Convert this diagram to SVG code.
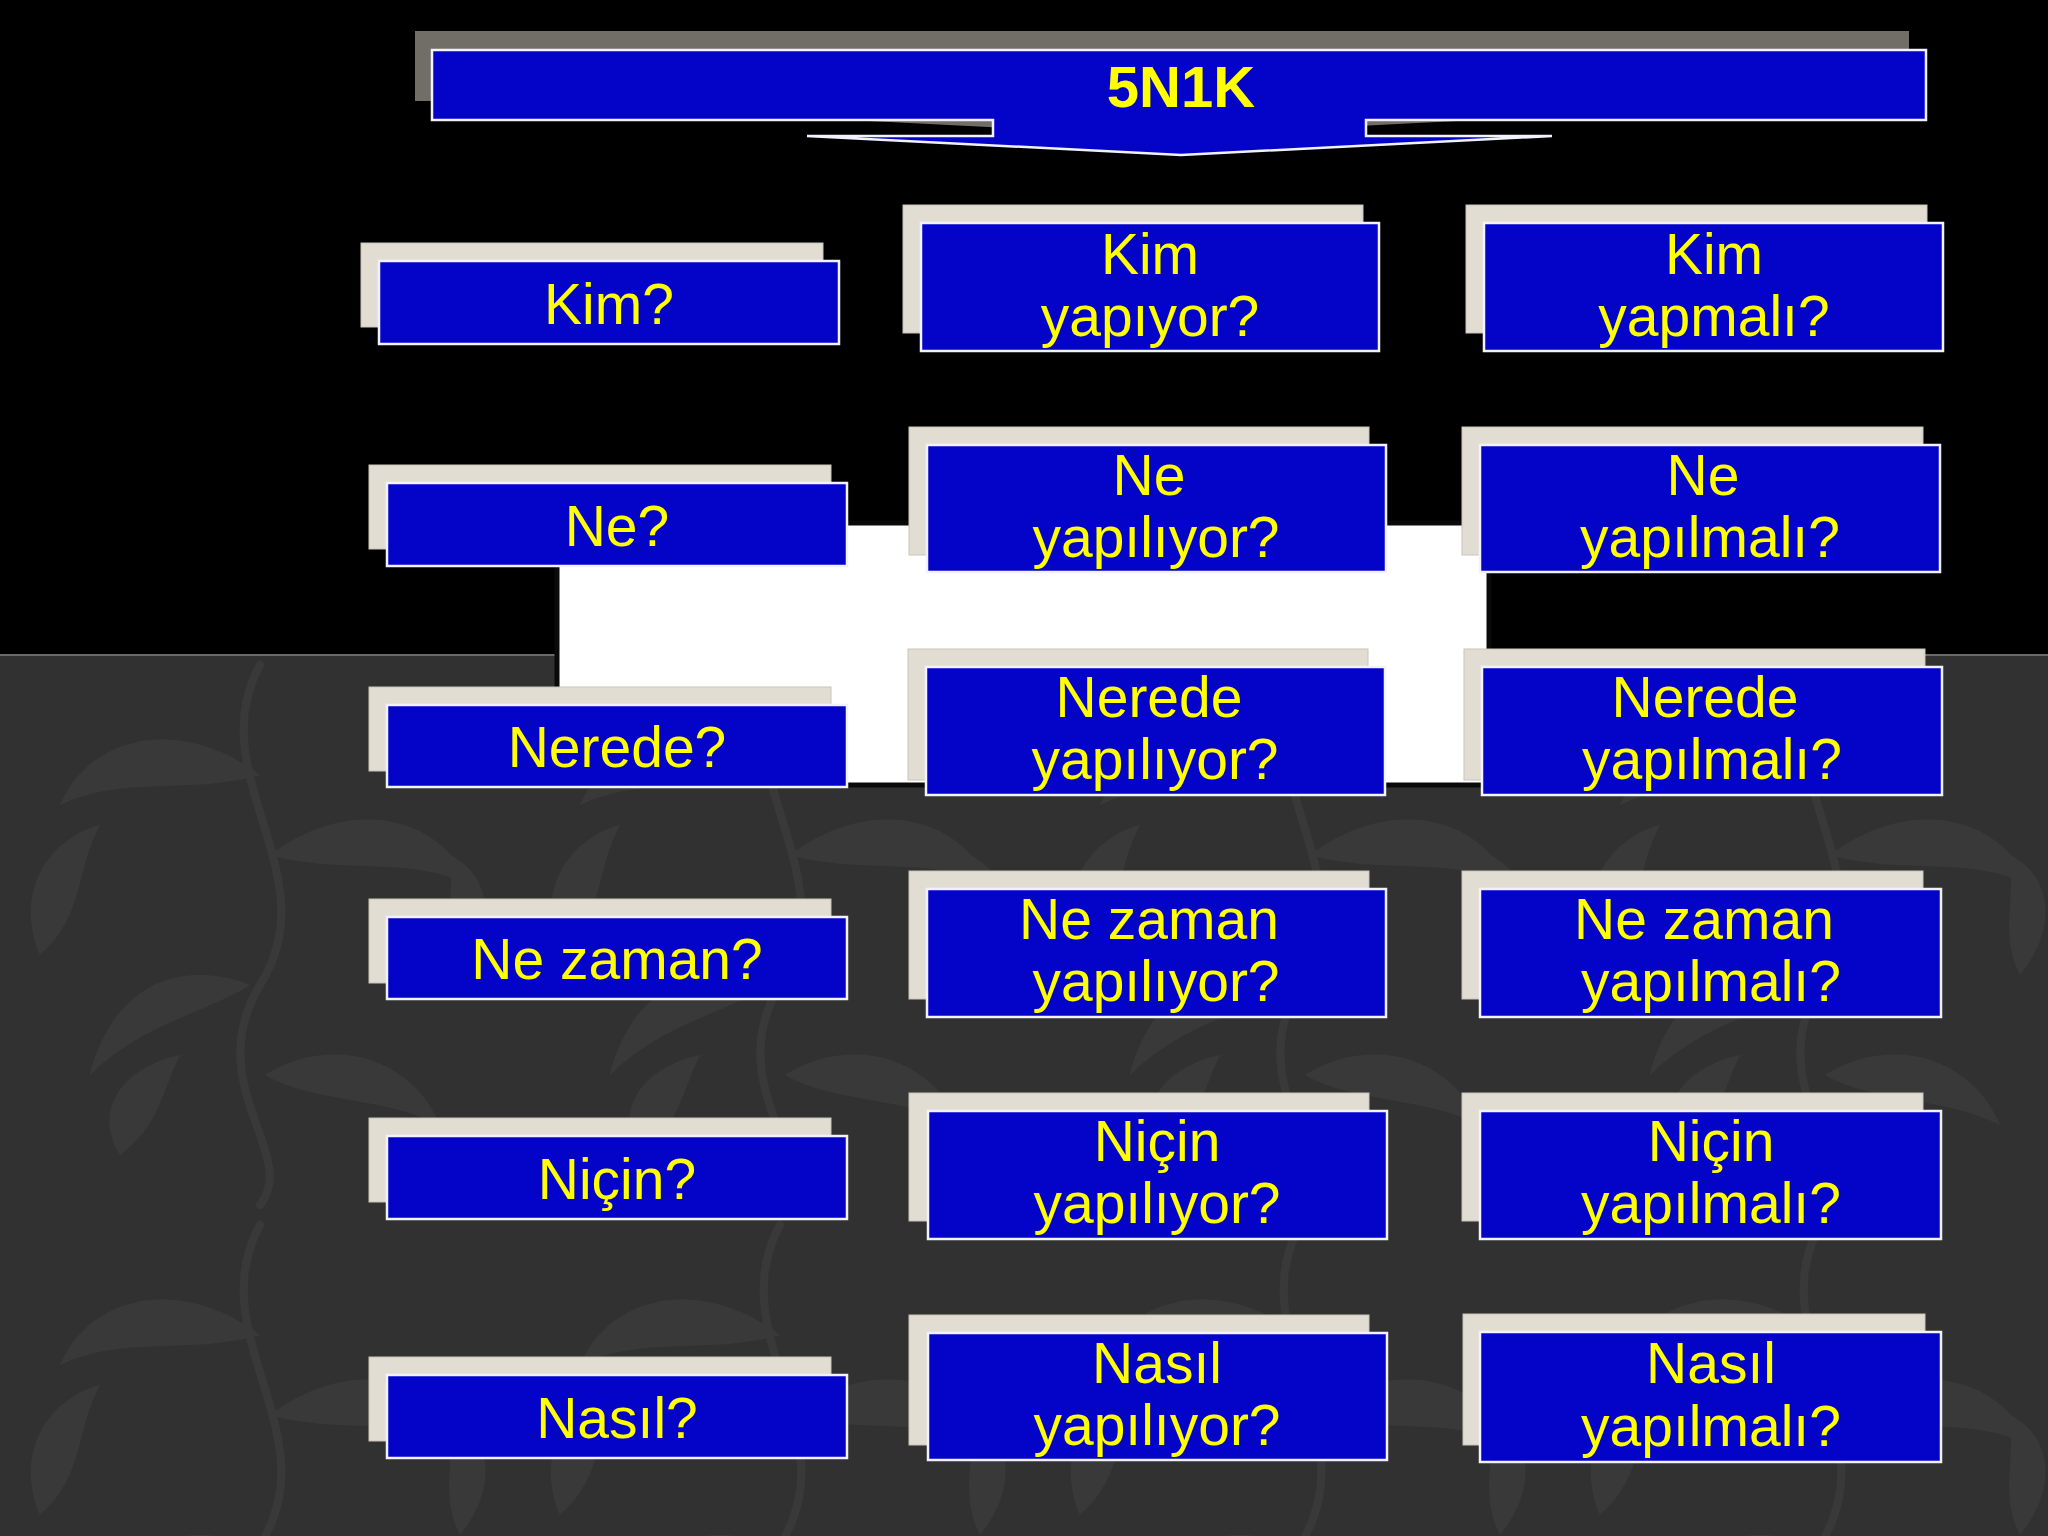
<svg xmlns="http://www.w3.org/2000/svg" width="2048" height="1536" viewBox="0 0 2048 1536">
<style>
.sh{fill:#e2ddd2;stroke:#c9c4b8;stroke-width:1}
.bx{fill:#0404c8;stroke:#f2f2ff;stroke-width:2.5}
.t{font-family:"Liberation Sans",Arial,sans-serif;font-size:57px;fill:#ffff00;text-anchor:middle}
.tt{font-family:"Liberation Sans",Arial,sans-serif;font-size:58px;font-weight:bold;fill:#ffff00;text-anchor:middle}
.leaf{fill:#393939}
.stem{fill:none;stroke:#393939;stroke-width:8;stroke-linecap:round}
</style>
<defs>
<pattern id="damask" x="0" y="655" width="520" height="560" patternUnits="userSpaceOnUse">
<rect width="520" height="560" fill="#313131"/>
<path class="stem" d="M260 10 C200 120 330 220 260 330 C200 430 300 500 260 550"/>
<path class="leaf" d="M260 120 C180 60 90 80 60 150 C120 120 190 140 260 120 Z"/>
<path class="leaf" d="M270 200 C350 140 440 160 470 230 C410 200 340 220 270 200 Z"/>
<path class="leaf" d="M250 330 C170 300 110 340 90 420 C140 370 200 360 250 330 Z"/>
<path class="leaf" d="M265 420 C330 380 410 400 440 470 C380 440 320 450 265 420 Z"/>
<path class="leaf" d="M40 300 C15 240 45 185 100 170 C75 215 85 260 40 300 Z"/>
<path class="leaf" d="M460 320 C500 270 490 220 450 200 C455 250 440 280 460 320 Z"/>
<path class="leaf" d="M120 500 C90 450 130 410 180 400 C160 440 160 470 120 500 Z"/>
</pattern>
</defs>
<rect x="0" y="0" width="2048" height="1536" fill="#000000"/>
<rect x="0" y="655" width="2048" height="881" fill="url(#damask)"/>
<line x1="0" y1="655" x2="2048" y2="655" stroke="#6a6a6a" stroke-width="2"/>

<g id="connectors">
<rect x="557" y="523" width="932" height="262" fill="#ffffff" stroke="#0a0a0a" stroke-width="5"/>
</g>

<g id="title">
<path transform="translate(-17,-19)" d="M432 50 H1926 V120 H1366 V136 H1552 L1181 155 L807 136 H993 V120 H432 Z" fill="#716d67"/>
<path d="M432 50 H1926 V120 H1366 V136 H1552 L1181 155 L807 136 H993 V120 H432 Z" fill="#0404c8" stroke="#f2f2ff" stroke-width="2.5"/>
<text class="tt" x="1181" y="107">5N1K</text>
</g>

<g id="kim">
<rect class="sh" x="361" y="243" width="462" height="84"/>
<rect class="bx" x="379" y="261" width="460" height="83"/>
<text class="t" x="609" y="324">Kim?</text>
</g>
<g id="ne">
<rect class="sh" x="369" y="465" width="462" height="84"/>
<rect class="bx" x="387" y="483" width="460" height="83"/>
<text class="t" x="617" y="546">Ne?</text>
</g>
<g id="nerede">
<rect class="sh" x="369" y="687" width="462" height="84"/>
<rect class="bx" x="387" y="705" width="460" height="82"/>
<text class="t" x="617" y="767">Nerede?</text>
</g>
<g id="nezaman">
<rect class="sh" x="369" y="899" width="462" height="84"/>
<rect class="bx" x="387" y="917" width="460" height="82"/>
<text class="t" x="617" y="979">Ne zaman?</text>
</g>
<g id="nicin">
<rect class="sh" x="369" y="1118" width="462" height="84"/>
<rect class="bx" x="387" y="1136" width="460" height="83"/>
<text class="t" x="617" y="1199">Niçin?</text>
</g>
<g id="nasil">
<rect class="sh" x="369" y="1357" width="462" height="84"/>
<rect class="bx" x="387" y="1375" width="460" height="83"/>
<text class="t" x="617" y="1438">Nasıl?</text>
</g>

<g id="kim-yapiyor">
<rect class="sh" x="903" y="205" width="460" height="128"/>
<rect class="bx" x="921" y="223" width="458" height="128"/>
<text class="t" x="1150" y="274">Kim</text>
<text class="t" x="1150" y="336">yapıyor?</text>
</g>
<g id="ne-yapiliyor">
<rect class="sh" x="909" y="427" width="460" height="128"/>
<rect class="bx" x="927" y="445" width="459" height="127"/>
<text class="t" x="1149" y="495">Ne</text>
<text class="t" x="1156" y="557">yapılıyor?</text>
</g>
<g id="nerede-yapiliyor">
<rect class="sh" x="908" y="649" width="460" height="131"/>
<rect class="bx" x="926" y="667" width="459" height="128"/>
<text class="t" x="1149" y="717">Nerede</text>
<text class="t" x="1155" y="779">yapılıyor?</text>
</g>
<g id="nezaman-yapiliyor">
<rect class="sh" x="909" y="871" width="460" height="128"/>
<rect class="bx" x="927" y="889" width="459" height="128"/>
<text class="t" x="1149" y="939">Ne zaman</text>
<text class="t" x="1156" y="1001">yapılıyor?</text>
</g>
<g id="nicin-yapiliyor">
<rect class="sh" x="909" y="1093" width="460" height="128"/>
<rect class="bx" x="928" y="1111" width="459" height="128"/>
<text class="t" x="1157" y="1161">Niçin</text>
<text class="t" x="1157" y="1223">yapılıyor?</text>
</g>
<g id="nasil-yapiliyor">
<rect class="sh" x="909" y="1315" width="460" height="130"/>
<rect class="bx" x="928" y="1333" width="459" height="127"/>
<text class="t" x="1157" y="1383">Nasıl</text>
<text class="t" x="1157" y="1445">yapılıyor?</text>
</g>

<g id="kim-yapmali">
<rect class="sh" x="1466" y="205" width="461" height="128"/>
<rect class="bx" x="1484" y="223" width="459" height="128"/>
<text class="t" x="1714" y="274">Kim</text>
<text class="t" x="1714" y="336">yapmalı?</text>
</g>
<g id="ne-yapilmali">
<rect class="sh" x="1462" y="427" width="461" height="128"/>
<rect class="bx" x="1480" y="445" width="460" height="127"/>
<text class="t" x="1703" y="495">Ne</text>
<text class="t" x="1710" y="557">yapılmalı?</text>
</g>
<g id="nerede-yapilmali">
<rect class="sh" x="1464" y="649" width="461" height="131"/>
<rect class="bx" x="1482" y="667" width="460" height="128"/>
<text class="t" x="1705" y="717">Nerede</text>
<text class="t" x="1712" y="779">yapılmalı?</text>
</g>
<g id="nezaman-yapilmali">
<rect class="sh" x="1462" y="871" width="461" height="128"/>
<rect class="bx" x="1480" y="889" width="461" height="128"/>
<text class="t" x="1704" y="939">Ne zaman</text>
<text class="t" x="1711" y="1001">yapılmalı?</text>
</g>
<g id="nicin-yapilmali">
<rect class="sh" x="1462" y="1093" width="461" height="128"/>
<rect class="bx" x="1480" y="1111" width="461" height="128"/>
<text class="t" x="1711" y="1161">Niçin</text>
<text class="t" x="1711" y="1223">yapılmalı?</text>
</g>
<g id="nasil-yapilmali">
<rect class="sh" x="1463" y="1314" width="462" height="131"/>
<rect class="bx" x="1480" y="1332" width="461" height="130"/>
<text class="t" x="1711" y="1383">Nasıl</text>
<text class="t" x="1711" y="1446">yapılmalı?</text>
</g>
</svg>
